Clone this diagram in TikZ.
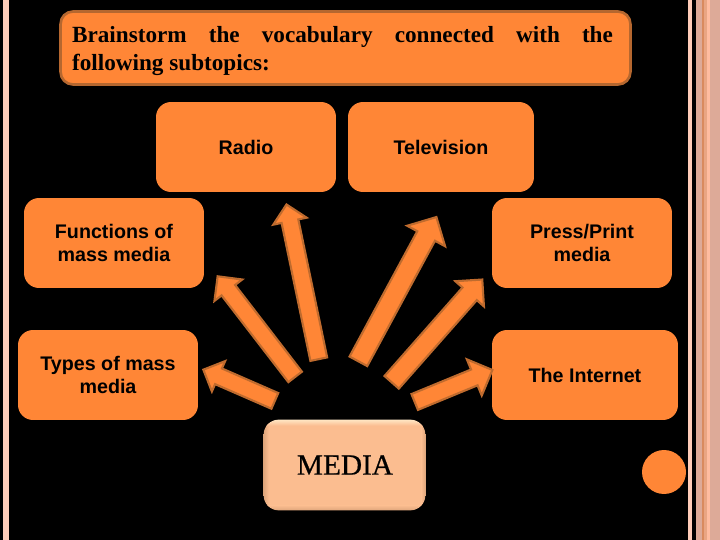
\documentclass[tikz,border=0pt]{standalone}
\usepackage{fontspec}
\setmainfont{Liberation Serif}
\setsansfont{Liberation Sans}
\usetikzlibrary{shapes.arrows}
\definecolor{boxfill}{HTML}{FF8636}
\definecolor{boxedge}{HTML}{B5672F}
\definecolor{arrowedge}{HTML}{BF6B2E}
\definecolor{peach}{HTML}{FBBD90}
\definecolor{peachlight}{HTML}{FFE6C4}
\definecolor{peachdark}{HTML}{DFA67C}
\definecolor{strip}{HTML}{FFCDB9}
\definecolor{bandout}{HTML}{DDAA98}
\definecolor{bandmid}{HTML}{E9A583}
\definecolor{bandline}{HTML}{D98A5E}
\definecolor{bandlight}{HTML}{FFBCA0}
\tikzset{
	topicbox/.style={fill=boxfill,rounded corners=0.3cm,align=center,text=black,
		minimum height=1.8cm,inner sep=0pt,font=\fontsize{11.2}{13.6}\selectfont\sffamily\bfseries},
	blockarrow/.style n args={4}{shape=single arrow,draw=arrowedge,fill=boxfill,line width=1.2pt,
		inner xsep=0pt,inner ysep=#3*0.01cm,rotate=#1,minimum height=#2*0.02cm,
		single arrow head extend=#4*0.02cm}
}
\begin{document}
\begin{tikzpicture}[x=0.02cm,y=-0.02cm]
\useasboundingbox (0,0) rectangle (720,540);
\fill[black] (0,0) rectangle (720,540);

% side strips
\fill[strip] (3,0) rectangle (9,540);
\fill[strip] (688,0) rectangle (692,540);
\fill[bandout] (696,0) rectangle (720,540);
\fill[bandmid] (702,0) rectangle (707,540);
\fill[bandline] (702,0) rectangle (703.5,540);
\fill[bandlight] (707,0) rectangle (710,540);

% heading
\node[draw=boxedge,fill=boxfill,line width=1.5pt,rounded corners=0.25cm,inner sep=0pt,
	minimum width=11.4cm,minimum height=1.46cm] (heading) at (345.5,48) {};
\node[inner sep=0pt,text width=10.82cm,align=justify,
	font=\fontsize{13.2}{16.4}\selectfont\bfseries] (headingtext) at (342.5,51)
	{Brainstorm the vocabulary connected with the\linebreak following subtopics:};

% topics
\node[topicbox,minimum width=3.6cm] (radio) at (246,147) {Radio};
\node[topicbox,minimum width=3.72cm] (television) at (441,147) {Television};
\node[topicbox,minimum width=3.6cm] (functions) at (114,243) {Functions of\\mass media};
\node[topicbox,minimum width=3.6cm] (press) at (582,243) {Press/Print\\media};
\node[topicbox,minimum width=3.6cm] (types) at (108,375) {Types of mass\\media};
\node[topicbox,minimum width=3.72cm] (internet) at (585,375) {The Internet};

% centre
\node[fill=peach,rounded corners=0.3cm,inner sep=0pt,minimum width=3.22cm,minimum height=1.8cm] (media) at (344.5,465) {};
\begin{scope}
\clip[rounded corners=0.3cm] (media.north west) rectangle (media.south east);
\shade[left color=peachdark,right color=peach] (media.north west) rectangle ([xshift=0.1cm]media.south west);
\shade[left color=peach,right color=peachdark] ([xshift=-0.08cm]media.north east) rectangle (media.south east);
\shade[top color=peachlight,bottom color=peach] (media.north west) rectangle ([yshift=-0.12cm]media.north east);
\shade[top color=peach,bottom color=peachdark] ([yshift=0.1cm]media.south west) rectangle (media.south east);
\end{scope}
\node[font=\fontsize{16.7}{18}\selectfont\addfontfeature{FakeBold=0.6},inner sep=0pt] (medialabel) at (345,465) {MEDIA};

% arrows
\node[blockarrow={156.4}{78}{15}{8}] (totypes) at (243,387) {};
\node[blockarrow={127.6}{127}{15}{9}] (tofunctions) at (259,330) {};
\node[blockarrow={101.8}{158}{15}{8.5}] (toradio) at (303.5,286) {};
\node[blockarrow={61.6}{164}{18}{11.5}] (totelevision) at (395,293.6) {};
\node[blockarrow={48.6}{137}{17}{9.5}] (topress) at (433.8,334.5) {};
\node[blockarrow={22.4}{84}{15}{11}] (tointernet) at (449.6,387.6) {};

\node[circle,fill=boxfill,minimum size=0.88cm,inner sep=0pt] (dot) at (664,472) {};
\end{tikzpicture}
\end{document}
